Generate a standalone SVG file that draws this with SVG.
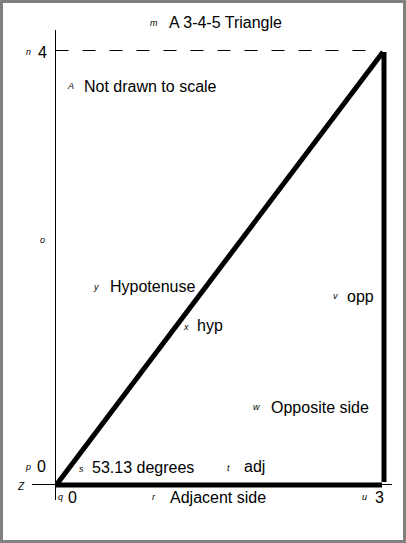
<svg xmlns="http://www.w3.org/2000/svg" width="406" height="543" viewBox="0 0 406 543">
<style>
.lbl{font-family:"Liberation Sans",Arial,sans-serif;font-size:16px;fill:#000}
.tag{font-family:"Liberation Sans",Arial,sans-serif;font-size:9px;font-style:italic;fill:#000}
.thin{stroke:#000;stroke-width:1;fill:none}
.thick{stroke:#000;stroke-width:5;fill:none}
</style>
<rect x="1.5" y="1.5" width="403" height="540" fill="#fff" stroke="#808080" stroke-width="3"/>
<g id="connectors">
<line class="thin" x1="55.5" y1="30" x2="55.5" y2="500"/>
<line class="thin" x1="32" y1="484.5" x2="392" y2="484.5"/>
<line class="thin" x1="55.5" y1="50.5" x2="378" y2="50.5" stroke-dasharray="13 14"/>
<line class="thick" x1="57" y1="484" x2="383" y2="52"/>
<line class="thick" x1="384" y1="52" x2="384" y2="482"/>
<line class="thick" x1="55" y1="485" x2="382" y2="485"/>
</g>
<g id="title"><text class="tag" x="150" y="26">m</text><text class="lbl" x="169" y="28">A 3-4-5 Triangle</text></g>
<g id="y4"><text class="tag" x="26" y="55">n</text><text class="lbl" x="38" y="58">4</text></g>
<g id="note"><text class="tag" x="68" y="89">A</text><text class="lbl" x="84" y="92">Not drawn to scale</text></g>
<g id="o"><text class="tag" x="40" y="243">o</text></g>
<g id="hypotenuse"><text class="tag" x="94" y="290">y</text><text class="lbl" x="110" y="292">Hypotenuse</text></g>
<g id="hyp"><text class="tag" x="184" y="330">x</text><text class="lbl" x="197" y="331">hyp</text></g>
<g id="opp"><text class="tag" x="333" y="299">v</text><text class="lbl" x="347" y="302">opp</text></g>
<g id="opposite"><text class="tag" x="253" y="410">w</text><text class="lbl" x="271" y="413">Opposite side</text></g>
<g id="y0"><text class="tag" x="26" y="470">p</text><text class="lbl" x="37" y="472">0</text></g>
<g id="angle"><text class="tag" x="79" y="472">s</text><text class="lbl" x="92" y="473">53.13 degrees</text></g>
<g id="adj"><text class="tag" x="227" y="471">t</text><text class="lbl" x="244" y="472">adj</text></g>
<g id="z"><text class="tag" x="18" y="490" style="font-size:10px">Z</text></g>
<g id="x0"><text class="tag" x="58" y="500">q</text><text class="lbl" x="68" y="503">0</text></g>
<g id="adjacent"><text class="tag" x="152" y="500">r</text><text class="lbl" x="170" y="503">Adjacent side</text></g>
<g id="x3"><text class="tag" x="362" y="500">u</text><text class="lbl" x="375" y="503">3</text></g>
</svg>
